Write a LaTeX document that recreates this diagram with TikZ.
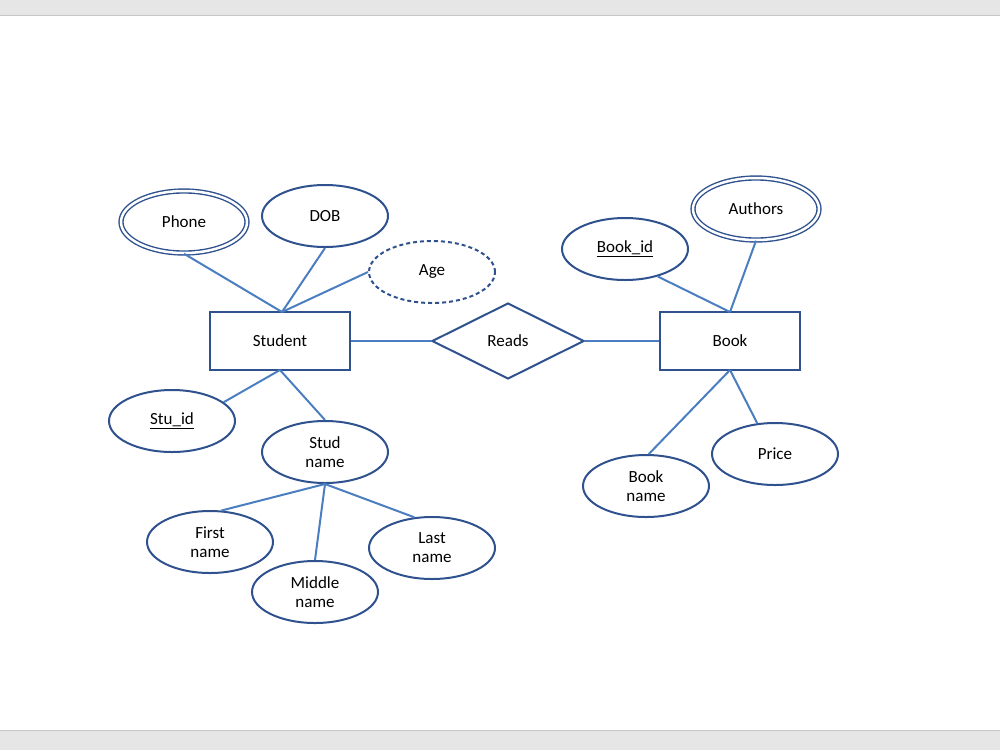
\documentclass[tikz,border=0pt]{standalone}
\usepackage{fontspec}
\setmainfont{Carlito}
\usetikzlibrary{shapes.geometric}
\definecolor{bord}{HTML}{2F528F}
\definecolor{conn}{HTML}{4A7EC0}
\definecolor{bar}{HTML}{E6E6E6}
\begin{document}
\begin{tikzpicture}[x=1pt,y=-1pt,
  every node/.style={font=\fontsize{17}{19}\selectfont, align=center, text=black},
  attr/.style={ellipse, draw=bord, line width=2pt, minimum width=126pt, minimum height=62pt, inner sep=0pt},
  multi/.style={attr, double=white, double distance=2.5pt, line width=1.4pt},
  derived/.style={attr, dash pattern=on 4pt off 3pt},
  ent/.style={rectangle, draw=bord, line width=2pt, minimum width=140pt, minimum height=58pt},
  rel/.style={diamond, draw=bord, line width=2pt, minimum width=152pt, minimum height=76pt, inner sep=0pt},
  link/.style={draw=conn, line width=2pt}]
\useasboundingbox (0,0) rectangle (1000,750);
\fill[bar] (0,0) rectangle (1000,15);
\fill[bar] (0,730) rectangle (1000,750);
\draw[bar!70!gray, line width=0.6pt] (0,15) -- (1000,15) (0,730) -- (1000,730);

\node[multi] (phone) at (184,222) {Phone};
\node[attr] (dob) at (325,216) {DOB};
\node[derived] (age) at (432,272) {Age};
\node[ent] (student) at (280,341) {Student};
\node[rel] (reads) at (508,341) {Reads};
\node[ent] (book) at (730,341) {Book};
\node[attr] (bookid) at (625,249) {\underline{Book\_id}};
\node[multi] (authors) at (756,209) {Authors};
\node[attr] (stuid) at (172,421) {\underline{Stu\_id}};
\node[attr] (stud) at (325,452) {Stud\\name};
\node[attr] (first) at (210,542) {First\\name};
\node[attr] (middle) at (315,592) {Middle\\name};
\node[attr] (last) at (432,548) {Last\\name};
\node[attr] (bname) at (646,486) {Book\\name};
\node[attr] (price) at (775,454) {Price};

\coordinate (st) at (282,312);
\coordinate (sb) at (280,370);
\coordinate (bt) at (730,312);
\coordinate (bb) at (730,370);
\coordinate (sd) at (325,484);

\path[link] (phone.-90) -- (st);
\path[link] (dob.-90) -- (st);
\path[link] (age.west) -- (st);
\path[link] (sb) -- (stuid.20);
\path[link] (sb) -- (stud.90);
\path[link] (sd) -- (first.70);
\path[link] (sd) -- (middle.90);
\path[link] (sd) -- (last.120);
\path[link] (bt) -- (bookid.-40);
\path[link] (bt) -- (authors.-90);
\path[link] (bb) -- (bname.85);
\path[link] (bb) -- (price.120);
\path[link] (student.east) -- (reads.west);
\path[link] (reads.east) -- (book.west);
\end{tikzpicture}
\end{document}
